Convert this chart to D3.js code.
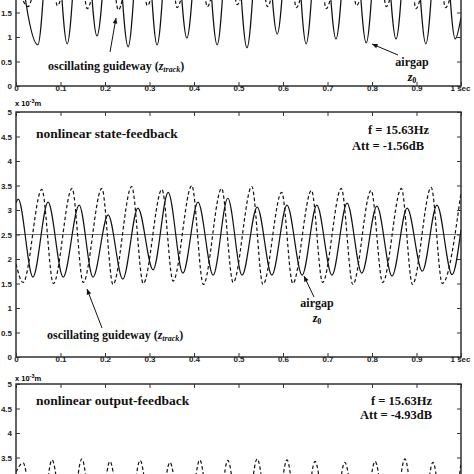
<!DOCTYPE html>
<html><head><meta charset="utf-8">
<script src="https://cdn.jsdelivr.net/npm/d3@7"></script>
<style>body{margin:0;background:#fff}</style></head>
<body><svg id="c" width="474" height="474"></svg>
<script>
// ---- data ----
const xTicks = [0,0.1,0.2,0.3,0.4,0.5,0.6,0.7,0.8,0.9,1];
const xTickLabels = ["0","0.1","0.2","0.3","0.4","0.5","0.6","0.7","0.8","0.9","1 sec"];
const yTicks = [0,0.5,1,1.5,2,2.5,3,3.5,4,4.5,5];
const yTickLabels = ["0","0.5","1","1.5","2","2.5","3","3.5","4","4.5","5"];

// top panel (cut off): airgap extrema, guideway extrema
const topSolidT = [0,0.049,0.082,0.115,0.148,0.182,0.217,0.252,0.285,0.317,0.350,0.384,0.418,0.452,0.485,0.519,0.553,0.587,0.620,0.652,0.685,0.719,0.753,0.787,0.820,0.854,0.887,0.921,0.954,0.987,1.0];
const topSolidV = [3.2,0.84,4.0,0.86,4.0,1.02,4.0,0.80,4.0,0.84,4.0,0.98,4.0,0.84,4.0,0.78,4.0,1.06,4.0,0.86,4.0,0.96,4.0,0.88,4.0,0.96,4.0,0.86,4.0,0.96,1.4];
const topDashT = [0,0.027,0.070,0.093,0.136,0.160,0.205,0.230,0.272,0.295,0.340,0.362,0.406,0.430,0.473,0.497,0.541,0.565,0.608,0.630,0.675,0.697,0.743,0.765,0.810,0.832,0.876,0.899,0.943,0.965,1.0];
const topDashV = [2.2,1.62,3.45,1.64,3.45,1.58,3.45,1.55,3.45,1.64,3.45,1.60,3.45,1.62,3.45,1.66,3.45,1.62,3.45,1.60,3.45,1.58,3.45,1.64,3.45,1.62,3.45,1.58,3.45,1.60,3.3];

// middle panel: nonlinear state-feedback
const midSolidT = [0,0.005,0.038,0.072,0.106,0.142,0.173,0.207,0.240,0.274,0.308,0.342,0.375,0.409,0.443,0.476,0.508,0.542,0.575,0.609,0.643,0.676,0.710,0.744,0.777,0.811,0.845,0.879,0.913,0.946,0.980,1.0];
const midSolidV = [3.15,3.22,1.63,3.16,1.63,3.10,1.63,2.90,1.59,3.04,1.78,3.36,1.71,3.16,1.67,3.24,1.67,3.06,1.67,3.10,1.67,3.10,1.67,3.14,1.71,3.08,1.65,3.04,1.75,3.10,1.68,2.6];
const midDashT = [0,0.016,0.058,0.084,0.126,0.151,0.193,0.218,0.260,0.286,0.328,0.353,0.395,0.421,0.462,0.488,0.530,0.555,0.597,0.622,0.664,0.689,0.731,0.757,0.798,0.824,0.866,0.891,0.933,0.958,1.0];
const midDashV = [1.9,1.52,3.42,1.50,3.44,1.52,3.44,1.48,3.48,1.50,3.42,1.55,3.50,1.48,3.44,1.52,3.48,1.48,3.36,1.50,3.40,1.52,3.44,1.48,3.40,1.52,3.44,1.48,3.46,1.50,3.36];

// bottom panel (cut off): nonlinear output-feedback
const botDashT = [0,0.016,0.049,0.081,0.115,0.148,0.180,0.211,0.245,0.279,0.312,0.346,0.380,0.413,0.445,0.476,0.509,0.542,0.576,0.609,0.640,0.672,0.706,0.739,0.773,0.807,0.840,0.874,0.905,0.937,0.968,1.0];
const botDashV = [3.2,3.39,1.5,3.45,1.5,3.47,1.5,3.42,1.5,3.44,1.5,3.40,1.5,3.45,1.5,3.44,1.5,3.47,1.5,3.45,1.5,3.42,1.5,3.40,1.5,3.42,1.5,3.47,1.5,3.40,1.5,3.42];
const botSolidT = [0,0.040,0.073,0.107,0.140,0.173,0.205,0.238,0.271,0.305,0.338,0.372,0.405,0.438,0.470,0.502,0.535,0.568,0.601,0.634,0.666,0.699,0.732,0.766,0.799,0.832,0.866,0.898,0.930,0.962,1.0];
const botSolidV = [2.6,3.1,1.85,3.12,1.85,3.08,1.85,3.1,1.85,3.12,1.85,3.08,1.85,3.1,1.85,3.12,1.85,3.1,1.85,3.08,1.85,3.1,1.85,3.12,1.85,3.1,1.85,3.08,1.85,3.1,2.4];

// ---- drawing ----
const svg = d3.select("#c");
const x = d3.scaleLinear().domain([0,1]).range([16,461]);
const font = "Liberation Sans, Arial, sans-serif";
const serif = "Liberation Serif, Times New Roman, serif";

function panel(id, y0, y5, series, showXLabels) {
  const y = d3.scaleLinear().domain([0,5]).range([y0,y5]);
  const g = svg.append("g");
  g.append("clipPath").attr("id","clip"+id).append("rect")
    .attr("x",16).attr("y",y5).attr("width",445).attr("height",y0-y5);
  const pg = g.append("g").attr("clip-path","url(#clip"+id+")");
  pg.append("line").attr("x1",x(0)).attr("x2",x(1)).attr("y1",y(2.5)).attr("y2",y(2.5))
    .attr("stroke","#777").attr("stroke-width",1);
  series.forEach(s => {
    const pts = s.t.map((t,i)=>[t,s.v[i]]);
    pg.append("path").datum(pts)
      .attr("d", d3.line().x(d=>x(d[0])).y(d=>y(d[1])).curve(d3.curveMonotoneX))
      .attr("fill","none").attr("stroke","#111").attr("stroke-width",1.2)
      .attr("stroke-dasharray", s.dash ? "3.5,2.5" : null);
  });
  g.append("rect").attr("x",16).attr("y",y5).attr("width",445).attr("height",y0-y5)
    .attr("fill","none").attr("stroke","#222").attr("stroke-width",1.4);
  const axB = d3.axisBottom(x).tickValues(xTicks).tickSizeInner(-4).tickSizeOuter(0)
    .tickFormat((d,i)=>showXLabels ? xTickLabels[i] : "");
  const gb = g.append("g").attr("transform",`translate(0,${y0})`).call(axB);
  const axT = d3.axisTop(x).tickValues(xTicks).tickSizeInner(-4).tickSizeOuter(0).tickFormat("");
  g.append("g").attr("transform",`translate(0,${y5})`).call(axT);
  const visY = yTicks.filter(d => y(d) > 4 && y(d) < 470);
  const axL = d3.axisLeft(y).tickValues(visY).tickSizeInner(-4).tickSizeOuter(0)
    .tickFormat(d=>yTickLabels[yTicks.indexOf(d)]);
  const gl = g.append("g").attr("transform",`translate(16,0)`).call(axL);
  const axR = d3.axisRight(y).tickValues(yTicks).tickSizeInner(-4).tickSizeOuter(0).tickFormat("");
  g.append("g").attr("transform",`translate(461,0)`).call(axR);
  g.selectAll(".domain").remove();
  g.selectAll(".tick line").attr("stroke","#333");
  gb.selectAll("text").attr("font-family",font).attr("font-size",8).attr("font-weight","bold").attr("dy","0.2em").attr("y",3).attr("fill","#222");
  gb.selectAll("text").filter(d => d === 1).attr("text-anchor","end").attr("dx","9");
  gl.selectAll("text").attr("font-family",font).attr("font-size",8).attr("font-weight","bold").attr("x",-4).attr("fill","#222");
  return y;
}

panel("t", 86, -159, [{t:topDashT,v:topDashV,dash:true},{t:topSolidT,v:topSolidV}], true);
panel("m", 357, 112, [{t:midDashT,v:midDashV,dash:true},{t:midSolidT,v:midSolidV}], true);
panel("b", 629, 384, [{t:botDashT,v:botDashV,dash:true},{t:botSolidT,v:botSolidV}], false);

function unit(yy){
  const t = svg.append("text").attr("x",15).attr("y",yy).attr("font-family",font).attr("font-size",7.5).attr("font-weight","bold");
  t.append("tspan").text("x 10");
  t.append("tspan").attr("dy",-3).attr("font-size",5.5).text("-3");
  t.append("tspan").attr("dy",3).text("m");
}
unit(106); unit(381);

function txt(s,xx,yy,size,anchor,bold){
  return svg.append("text").attr("x",xx).attr("y",yy).attr("font-family",serif).attr("font-size",size)
    .attr("font-weight",bold?"bold":"normal").attr("text-anchor",anchor||"start").attr("fill","#111").text(s);
}
function arrow(x1,y1,x2,y2){
  svg.append("line").attr("x1",x1).attr("y1",y1).attr("x2",x2).attr("y2",y2).attr("stroke","#111").attr("stroke-width",1);
  const a = Math.atan2(y2-y1,x2-x1), L=6, w=0.4;
  svg.append("path").attr("d",`M${x2},${y2}L${x2-L*Math.cos(a-w)},${y2-L*Math.sin(a-w)}L${x2-L*Math.cos(a+w)},${y2-L*Math.sin(a+w)}Z`).attr("fill","#111");
}
function guide(xx,yy){
  const t = svg.append("text").attr("x",xx).attr("y",yy).attr("font-family",serif).attr("font-size",12).attr("font-weight","bold").attr("fill","#111");
  t.append("tspan").text("oscillating guideway (");
  t.append("tspan").attr("font-style","italic").text("z");
  t.append("tspan").attr("font-style","italic").attr("font-size",8).attr("dy",2).text("track");
  t.append("tspan").attr("dy",-2).text(")");
}
function airgap(xx,yy){
  txt("airgap",xx,yy,12,"middle",true);
  const t = svg.append("text").attr("x",xx).attr("y",yy+15).attr("font-family",serif).attr("font-size",12).attr("font-weight","bold").attr("text-anchor","middle").attr("font-style","italic");
  t.append("tspan").text("z");
  t.append("tspan").attr("font-size",8).attr("dy",2).attr("font-style","normal").text("0");
}
guide(48,70); arrow(110,52,116,18);
airgap(412,66); arrow(398,55,372,44);
txt("nonlinear state-feedback",36,138,13.5,"start",true);
txt("f = 15.63Hz",429,134,12.5,"end",true);
txt("Att = -1.56dB",424,150,12.5,"end",true);
guide(47,339); arrow(102,328,87,289);
airgap(317,307); arrow(314,297,304,276);
txt("nonlinear output-feedback",36,405,13.5,"start",true);
txt("f =  15.63Hz",432,405,12.5,"end",true);
txt("Att =   -4.93dB",432,419,12.5,"end",true);
</script></body></html>
